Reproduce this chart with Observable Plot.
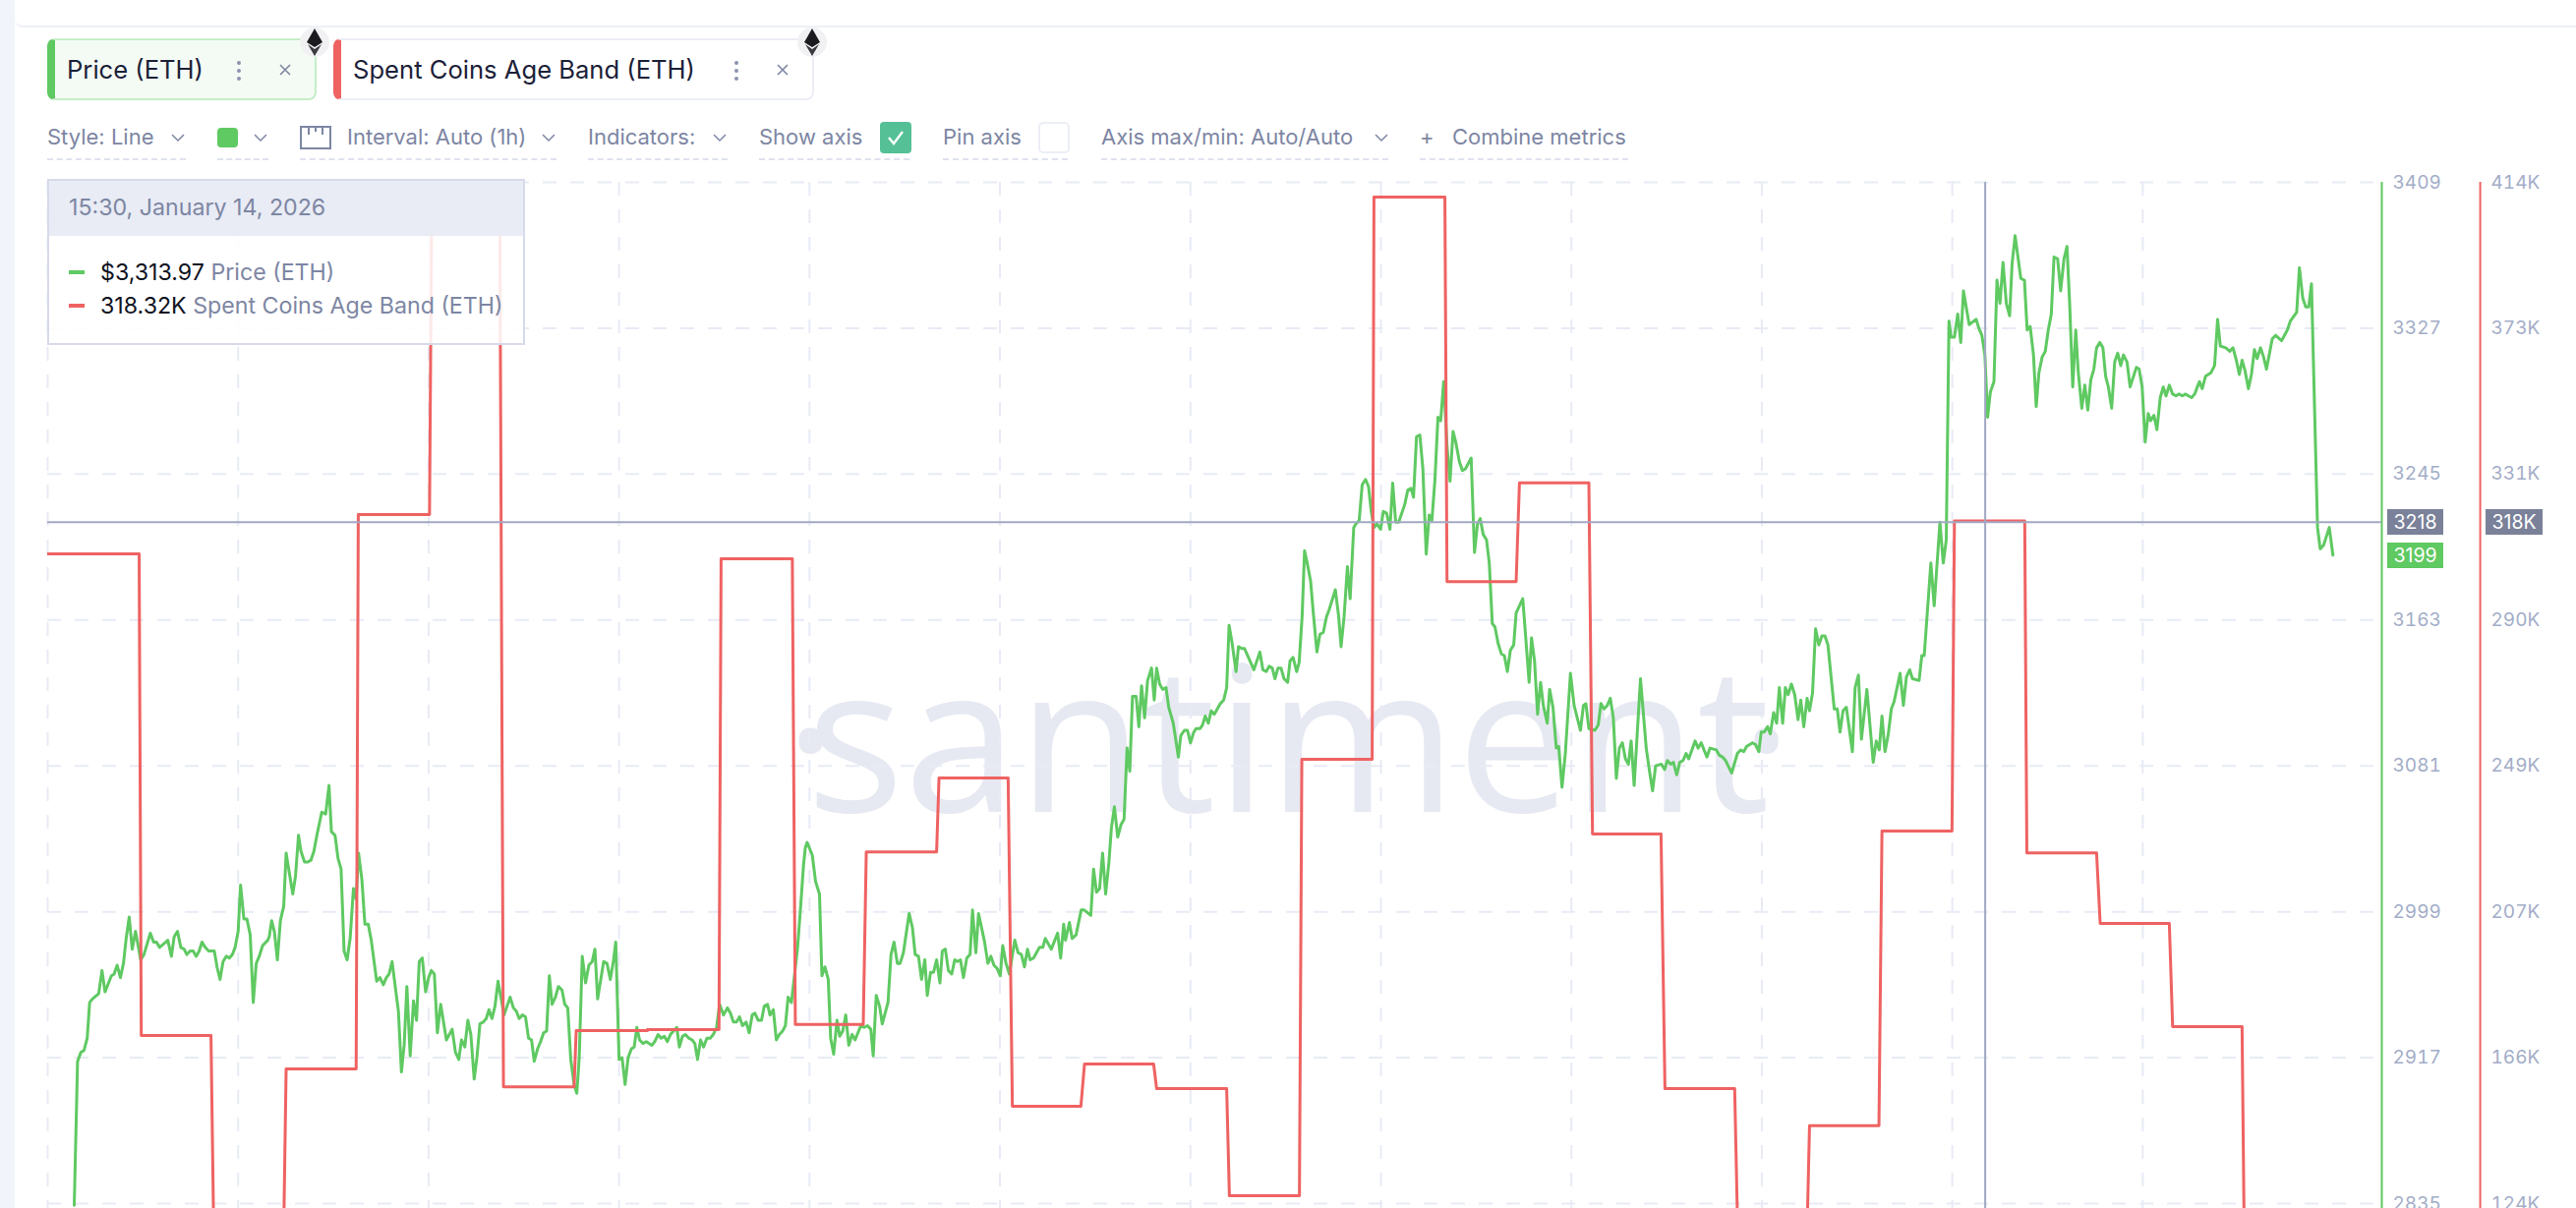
<!DOCTYPE html>
<html><head><meta charset="utf-8">
<script src="https://cdn.jsdelivr.net/npm/d3@7"></script>
<script src="https://cdn.jsdelivr.net/npm/@observablehq/plot@0.6"></script>
<style>
html,body{margin:0;padding:0;background:#fff;width:2620px;height:1229px;overflow:hidden;font-family:Inter,sans-serif;}
#page{position:relative;width:2620px;height:1229px;overflow:hidden;}
#head{position:relative;height:170px;}
.strip{position:absolute;left:0;top:0;width:15px;height:1229px;background:#f2f4fb;z-index:5;}
.topbar{position:absolute;left:15px;top:0;right:0;height:26px;border-bottom:2px solid #eef0f7;border-bottom-left-radius:8px;}
.t{position:absolute;white-space:nowrap;height:28px;line-height:28px;}
.chip{position:absolute;top:39px;height:63px;box-sizing:border-box;border-radius:8px;border-style:solid;border-width:2px 2px 2px 8px;}
.chiptx{font-size:25.6px;color:#1c2138;top:57px;}
.tb{font-size:22px;color:#7d86a3;top:125px;}
.dash{position:absolute;top:161px;height:0;border-top:2px dashed #dfe2ee;}
.chev{position:absolute;top:135px;width:16px;height:10px;}
.eth{position:absolute;top:28px;width:30px;height:30px;border-radius:15px;background:#f1f1f4;}
.dots,.cross{position:absolute;top:61px;}
#tip{position:absolute;left:48px;top:182px;width:486px;height:169px;box-sizing:border-box;border:2px solid #d6daea;background:rgba(255,255,255,.86);z-index:4;}
#tip .hd{position:absolute;left:0;top:0;right:0;height:56px;background:#e9ecf5;}
.chipval{position:absolute;height:26px;line-height:26px;text-align:center;color:#fff;font-size:19.5px;z-index:3;}
#chart{position:absolute;left:0;top:170px;}
#chart svg{display:block;}
</style></head><body>
<div id="page">
<div class="strip"></div><div class="topbar"></div>
<div id="head">
  <div class="chip" style="left:48px;width:274px;background:#f4fbf4;border-color:#c6eec8;border-left-color:#5fc962;"></div>
  <div class="t chiptx" style="left:68px;">Price (ETH)</div>
  <div class="chip" style="left:339px;width:489px;background:#fff;border-color:#eceef6;border-left-color:#ef6262;"></div>
  <div class="t chiptx" style="left:359px;">Spent Coins Age Band (ETH)</div>
  <svg class="dots" style="left:240px;" width="6" height="22"><g fill="#8b93ad"><circle cx="3" cy="3" r="2"/><circle cx="3" cy="11" r="2"/><circle cx="3" cy="19" r="2"/></g></svg>
  <svg class="cross" style="left:283px;top:64px;" width="14" height="14"><path d="M2 2L12 12M12 2L2 12" stroke="#7d86a3" stroke-width="1.6"/></svg>
  <svg class="dots" style="left:746px;" width="6" height="22"><g fill="#8b93ad"><circle cx="3" cy="3" r="2"/><circle cx="3" cy="11" r="2"/><circle cx="3" cy="19" r="2"/></g></svg>
  <svg class="cross" style="left:789px;top:64px;" width="14" height="14"><path d="M2 2L12 12M12 2L2 12" stroke="#7d86a3" stroke-width="1.6"/></svg>
  <div class="eth" style="left:305px;"><svg width="30" height="30"><path d="M15 1L7 15L15 20L23 15Z" fill="#1b1b1f"/><path d="M15 22L8 17L15 29L22 17Z" fill="#3a3a40"/></svg></div>
  <div class="eth" style="left:811px;"><svg width="30" height="30"><path d="M15 1L7 15L15 20L23 15Z" fill="#1b1b1f"/><path d="M15 22L8 17L15 29L22 17Z" fill="#3a3a40"/></svg></div>

  <div class="t tb" style="left:48px;">Style: Line</div>
  <svg class="chev" style="left:173px;"><path d="M2 2L8 8L14 2" fill="none" stroke="#7d86a3" stroke-width="1.5"/></svg>
  <div class="dash" style="left:48px;width:141px;"></div>
  <div style="position:absolute;left:221px;top:130px;width:21px;height:20px;border-radius:4px;background:#5fc962;"></div>
  <svg class="chev" style="left:257px;"><path d="M2 2L8 8L14 2" fill="none" stroke="#7d86a3" stroke-width="1.5"/></svg>
  <div class="dash" style="left:221px;width:52px;"></div>
  <svg style="position:absolute;left:305px;top:128px;" width="32" height="24"><path d="M1 1H31V23H1ZM9 1V9M16 1V6M23 1V9" fill="none" stroke="#7d86a3" stroke-width="2"/></svg>
  <div class="t tb" style="left:353px;">Interval: Auto (1h)</div>
  <svg class="chev" style="left:550px;"><path d="M2 2L8 8L14 2" fill="none" stroke="#7d86a3" stroke-width="1.5"/></svg>
  <div class="dash" style="left:305px;width:261px;"></div>
  <div class="t tb" style="left:598px;">Indicators:</div>
  <svg class="chev" style="left:724px;"><path d="M2 2L8 8L14 2" fill="none" stroke="#7d86a3" stroke-width="1.5"/></svg>
  <div class="dash" style="left:598px;width:142px;"></div>
  <div class="t tb" style="left:772px;">Show axis</div>
  <div style="position:absolute;left:895px;top:124px;width:32px;height:32px;border-radius:4px;background:#55c096;"><svg width="32" height="32"><path d="M9 16L14 22L23 10" fill="none" stroke="#fff" stroke-width="2.4"/></svg></div>
  <div class="dash" style="left:772px;width:153px;"></div>
  <div class="t tb" style="left:959px;">Pin axis</div>
  <div style="position:absolute;left:1056px;top:124px;width:32px;height:32px;box-sizing:border-box;border-radius:5px;border:2px solid #eceef6;"></div>
  <div class="dash" style="left:959px;width:127px;"></div>
  <div class="t tb" style="left:1120px;">Axis max/min: Auto/Auto</div>
  <svg class="chev" style="left:1397px;"><path d="M2 2L8 8L14 2" fill="none" stroke="#7d86a3" stroke-width="1.5"/></svg>
  <div class="dash" style="left:1120px;width:292px;"></div>
  <div class="t tb" style="left:1444px;">+</div>
  <div class="t tb" style="left:1477px;">Combine metrics</div>
  <div class="dash" style="left:1444px;width:212px;"></div>
</div>
<div id="chart"></div>
<div id="tip">
  <div class="hd"></div>
  <div class="t" style="left:20px;top:13px;font-size:23.2px;color:#7d86a3;">15:30, January 14, 2026</div>
  <div style="position:absolute;left:20px;top:91px;width:16px;height:4px;background:#5fc962;"></div>
  <div class="t" style="left:52px;top:79px;font-size:23.2px;color:#10131f;">$3,313.97 <span style="color:#7d86a3">Price (ETH)</span></div>
  <div style="position:absolute;left:20px;top:125px;width:16px;height:4px;background:#ef6262;"></div>
  <div class="t" style="left:52px;top:113px;font-size:23.2px;color:#10131f;">318.32K <span style="color:#7d86a3">Spent Coins Age Band (ETH)</span></div>
</div>
</div>
<script>
// Price (ETH), hourly: hours since the left edge of the chart and USD price
const priceHour=[8.8,9.9,11,12,13.1,13.9,14.8,16.9,18,19,21.1,22,23,24.1,25.1,26,27,28,29.1,30.8,31.9,34,35.1,36,37.1,39.8,41,41.9,43,44.1,45.2,46.1,47.2,48.2,49.2,50.2,51.1,52.2,53.3,55.2,56.1,57.1,58.1,59.2,60.2,61.2,62.1,63.1,63.9,65,66,67.1,68.1,69.1,70.1,71.2,72.9,73.4,74.2,75.1,76.1,77.1,78.2,79,81.2,82.1,83.1,83.9,85.1,86.2,87.2,88.2,89.3,90.8,92.1,93.2,94,95.2,96.2,97.2,98.2,99.2,100.2,101.3,102.2,103,104.1,105.1,106.2,107.2,109,110.1,111.2,112.2,113.1,114.1,116.2,117.2,118.1,119,120.1,121.2,122.2,123.1,124.1,125.2,126.2,127.1,128.1,129.1,130.2,132.1,134,135.1,136.2,137.1,138.2,139.2,140.2,141.3,142.2,143.2,144.3,145.3,146.2,147.2,148.2,149.2,151.2,153.2,154.3,155.3,156.2,157.3,158.3,159.3,160.3,161.2,162.3,163.3,164.3,165.3,166.2,167.1,168.2,169.2,170.4,171.3,172.3,173.3,174.4,175.3,176.1,177.1,178.2,179.3,180.4,181.3,182.2,184.2,185.3,186.4,187.4,188.2,189.3,190.3,191.3,192.3,193.4,194.3,195.2,196.1,197.2,198.3,200.2,201.1,202.2,203.2,204.3,205.3,206.3,208.4,209.3,210.3,211.3,212.4,213.5,214.4,215.3,216.3,217.3,218.4,219.5,220.5,221.6,222.6,223.9,225.2,226.2,227.2,228.2,229.2,230.2,231.4,232.4,233.4,234.3,235.4,236.5,237.4,238.5,239.3,240.4,241.4,242.4,243.5,244.4,245.3,246.4,248.4,249.5,250.4,251,251.6,253.3,254.4,255.7,256.5,257.5,258.6,259.4,260.4,261.5,262.4,263.4,264.4,265.4,266.5,267.5,269.4,270.5,271.6,272.7,273.5,274.5,275.6,276.5,278.4,279.4,280.4,281.5,282.4,283.5,285.4,286.5,287.4,288.5,289.5,290.6,291.4,292.5,293.5,294.5,295.6,296.4,297.4,298.4,299.5,300.5,301.4,302.4,303.4,304.5,305.6,306.4,307.5,308.4,310.4,311.5,312.5,313.5,314.6,315.6,316.4,317.5,318.6,320.4,321.5,322.6,323.6,324.6,325.5,326.6,328.6,329.7,330.5,332.5,334.6,335.6,336.6,337.2,338.5,339.4,340.7,342.4,343.4,345.6,346.5,347.5,348.5,349.5,350.5,351.6,352.4,353.4,354.5,355.6,356.6,357.6,358.5,359.4,360.6,361.5,362.4,363.4,364.4,365.7,366.6,367.4,368.4,369.4,370.5,371.4,372.9,374.6,375.4,376.6,377.6,378.6,379.7,380.5,381.8,382.6,383.5,384.5,385.5,386.5,387.5,388.5,389.6,390.6,391.4,392.4,393.7,394.5,395.6,396.5,399.6,401.6,402.6,403.7,404.7,405.7,406.6,407.6,408.6,409.6,410.8,411.6,412.6,413.8,414.6,415.6,416.4,417.4,418.4,419.3,420.5,421.5,422.6,423.7,424.6,426.6,427.7,428.5,429.5,430.6,431.5,432.7,433.4,434.5,435.5,436.6,437.6,438.5,439.4,440.4,441.6,442.5,443.6,444.7,445.6,446.6,447.6,449.6,450.6,451.7,452.5,453.5,454.6,455.6,456.7,457.7,458.6,459.6,460.6,461.5,462.5,463.6,464.6,465.6,466.5,467.7,468.7,469.7,471.6,472.7,473.7,474.6,475.6,476.7,477.6,478.6,479.5,480.5,481.6,482.6,483.6,484.6,485.7,486.5,487.6,488.7,490.8,491.6,492.6,493.6,494.6,495.5,496.8,497.6,498.7,499.8,500.6,501.7,502.8,504.5,505.7,507.8,508.8,509.6,510.6,512.6,513.7,514.6,515.6,516.7,517.7,518.7,519.7,520.7,521.7,522.7,523.7,524.6,525.6,527.7,529.6,530.6,531.7,532.7,534.6,535.7,536.6,537.7,538.6,539.7,540.7,541.8,542.8,543.7,545.8,546.8,547.8,549.7,550.7,552.8,553.8,554.9,555.9,557.9,559.8,560.9,561.9,562.9,564.8,565.8,566.9,567.7,568.7,569.8,570.7,571.8,572.8,573.7,574.8,575.7,576.6,577.7,578.8,579.9,580.8,581.8,582.9,583.7,584.7,585.7,586.8,587.8,588.8,589.8,591.9,592.9,593.8,594.8,595.9,597.9,598.8,599.9,600.9,602.7,604.8,605.8,606.8,607.7,608.7,609.8,610.8,611.7,613.7,614.8,615.8,616.9,617.8,620,620.9,621.7,622.8,623.9,625,626.9,628,629,629.9,630.6,631.7,632.8,633.8,634.7,636.6,638.9,639.8,640.8,641.8,642.7,643.6,644.8,645.8,646.8,647.8,648.9,650,650.8,651.8,653.7,654.9,655.8,656.8,657.9,658.8,659.7,660.8,661.8,662.8,663.8,664.7,665.9,666.9,668,669,669.9,670.9,671.9,672.7,673.9,674.9,675.9,676.9,677.9,678.8,679.9,680.9,681.8,682.7,683.8,684.8,685.8,686.8,687.7,688.9,689.9,692,692.9,693.9,694.9,695.9,696.7,697.8,698.8,699.9,700.9,701.8,702.9,704,705.1,706.1,707.2,708.3,709.2,710.3,711.3,712.4,712.9,713.8,714.9,716.7,717.9,718.9,719.8,721.6,722.9,724,725.1,726.1,727,728,729.1,730.1,731.1,732,733.1,734.1,735.1,737,738.1,740.1,742,743,745.1,746,747.1,748.1,749.1,750,752,752.9,754,755.9,757.1];
const priceValue=[2834,2915,2920,2921,2928,2948,2950,2953,2966,2954,2963,2964,2969,2962,2970,2984,2996,2978,2988,2972,2975,2987,2982,2982,2979,2983,2974,2985,2988,2979,2978,2975,2977,2977,2974,2977,2982,2979,2977,2977,2968,2961,2971,2974,2973,2975,2979,2988,3014,2995,2995,2986,2948,2970,2974,2980,2983,2985,2994,2988,2972,2994,3002,3032,3009,3019,3042,3033,3027,3027,3028,3033,3043,3055,3054,3070,3044,3042,3029,3023,2977,2972,2984,3012,3006,3032,3017,2992,2992,2983,2960,2962,2958,2962,2964,2971,2943,2909,2924,2957,2918,2949,2938,2971,2973,2954,2962,2966,2964,2931,2947,2927,2933,2920,2916,2927,2923,2938,2930,2905,2917,2936,2937,2939,2944,2939,2946,2960,2941,2951,2945,2943,2939,2941,2940,2928,2927,2915,2922,2926,2931,2932,2963,2947,2951,2957,2955,2947,2945,2916,2902,2897,2917,2974,2959,2969,2971,2978,2950,2971,2970,2961,2971,2982,2916,2917,2902,2917,2922,2923,2934,2927,2925,2926,2924,2926,2930,2928,2929,2926,2930,2934,2923,2929,2930,2928,2927,2925,2916,2927,2923,2928,2928,2930,2934,2947,2941,2945,2942,2937,2937,2940,2935,2937,2931,2941,2942,2938,2938,2946,2947,2941,2944,2927,2930,2932,2935,2951,2948,2978,3003,3025,3035,3038,3031,3016,3009,2963,2968,2961,2928,2919,2938,2929,2932,2941,2924,2930,2927,2935,2934,2935,2933,2918,2952,2946,2936,2948,2975,2982,2970,2970,2976,2998,2990,2975,2974,2961,2972,2952,2965,2965,2972,2959,2977,2978,2966,2964,2972,2971,2972,2962,2973,2975,3000,2976,2998,2982,2970,2974,2969,2967,2963,2980,2970,2964,2983,2976,2975,2968,2978,2972,2973,2979,2979,2984,2978,2987,2973,2992,2983,2993,2984,2986,3000,3000,2997,3023,3010,3012,3032,3009,3027,3046,3058,3041,3048,3051,3091,3078,3120,3120,3103,3126,3108,3129,3136,3118,3136,3127,3124,3125,3114,3105,3086,3098,3101,3101,3094,3100,3102,3102,3104,3109,3105,3112,3110,3113,3116,3118,3125,3160,3150,3134,3148,3147,3147,3135,3145,3135,3134,3137,3136,3130,3136,3136,3130,3128,3140,3142,3134,3139,3165,3202,3194,3185,3167,3145,3155,3156,3165,3169,3180,3165,3148,3165,3193,3175,3215,3217,3219,3239,3242,3238,3224,3215,3217,3214,3224,3223,3214,3240,3218,3218,3228,3236,3237,3232,3266,3267,3248,3200,3222,3219,3242,3277,3275,3297,3261,3241,3269,3263,3252,3247,3248,3254,3201,3217,3220,3211,3208,3195,3161,3159,3150,3144,3143,3134,3146,3149,3167,3171,3175,3128,3153,3140,3110,3128,3115,3105,3124,3114,3091,3092,3069,3088,3133,3115,3101,3115,3116,3102,3101,3104,3116,3113,3115,3119,3108,3074,3091,3094,3085,3082,3095,3070,3130,3091,3079,3067,3081,3082,3079,3084,3082,3083,3076,3083,3084,3088,3085,3095,3091,3094,3086,3091,3090,3087,3086,3084,3077,3088,3090,3089,3092,3094,3093,3089,3100,3100,3103,3099,3111,3105,3125,3105,3125,3121,3127,3121,3107,3118,3103,3119,3112,3122,3158,3149,3154,3154,3149,3113,3113,3100,3112,3114,3089,3125,3132,3096,3124,3083,3095,3090,3109,3089,3099,3113,3117,3133,3115,3131,3135,3130,3129,3143,3143,3169,3195,3171,3218,3195,3208,3331,3322,3322,3335,3319,3348,3329,3332,3327,3323,3312,3277,3291,3297,3354,3341,3364,3341,3334,3363,3379,3355,3354,3326,3328,3312,3283,3302,3311,3314,3326,3335,3367,3366,3348,3366,3373,3340,3294,3326,3303,3282,3295,3281,3298,3304,3316,3319,3316,3300,3294,3282,3308,3313,3306,3312,3308,3294,3305,3304,3294,3263,3279,3275,3278,3270,3288,3294,3289,3295,3290,3289,3290,3289,3290,3289,3288,3290,3295,3297,3293,3300,3302,3306,3332,3317,3316,3314,3316,3309,3301,3309,3303,3293,3301,3315,3310,3316,3311,3304,3321,3323,3320,3326,3331,3336,3361,3344,3339,3339,3352,3215,3203,3205,3215,3199.5];
// Spent Coins Age Band (ETH), one flat level per day: start hour, end hour, value in thousands
const spentStart=[0,31,55,79,102.9,127.2,151,175.1,198.7,223.1,247.7,271.2,295.3,319.6,343.5,367.4,391.5,415.5,439.4,463.6,487.6,511.8,535.8,559.9,583.7,607.7,631.7,655.7,680,704,727.7];
const spentEnd=[30.3,54.1,78.2,102.2,126.5,149.8,174.4,198.7,222.4,246.7,270.2,294.5,318.2,342.3,366.4,390.6,414.7,438.8,462.9,486.5,510.6,534.5,558.9,582.9,606.7,630.9,655,678.8,702.9,727,757];
const spentValue=[309,172.3,117,162.8,320.1,404.9,157.7,173.7,174,307.6,175.4,224.4,245.4,152.2,164.2,157.2,126.8,250.7,410.2,301.1,329.1,229.5,157.2,117,146.7,230.3,318.32,224.1,204.1,174.8,117];
const priceTicks=[3409,3327,3245,3163,3081,2999,2917,2835];
const spentTicks=["414K","373K","331K","290K","249K","207K","166K","124K"];
const gridHours=[0,63.1,126.2,189.3,252.4,315.5,378.6,441.7,504.8,567.9,631,694.1];
const crossHour=641.9, crossPrice=3218, lastPrice=3199;
const priceAxisHour=773.3, spentAxisHour=805.9, bottomPrice=2832;
const GREEN="#5fc962", RED="#ef6262", GRID="#e8ebf5", CROSS="#a2a8c3", LABEL="#a3adc8";

const spentToPrice=d3.scaleLinear([414.4,124.6],[3409,2835]);
const priceData=priceHour.map((h,i)=>({h,p:priceValue[i]}));
const spentData=spentStart.flatMap((s,i)=>[{h:s,v:spentValue[i]},{h:spentEnd[i],v:spentValue[i]}]);
const labelOf=new Map(priceTicks.map((p,i)=>[p,spentTicks[i]]));

const chart=Plot.plot({
  width:2620,height:1059,
  marginTop:15,marginBottom:0,marginLeft:48,marginRight:198,
  insetBottom:5,
  style:{background:"transparent",fontFamily:"Inter, sans-serif",overflow:"hidden"},
  x:{type:"linear",domain:[0,priceAxisHour],axis:null},
  y:{type:"linear",domain:[2835,3409],axis:null},
  marks:[
    Plot.text([{h:252.8,p:3055,t:"·"},{h:411,p:3055,t:"santiment"},{h:569.4,p:3055,t:"·"}],{
      x:"h",y:"p",text:"t",fontSize:208,fontWeight:400,fontFamily:"Open Sans",fill:"#e7e9f2",lineAnchor:"bottom"
    }),
    Plot.ruleX(gridHours,{y1:3409,y2:bottomPrice,stroke:GRID,strokeWidth:2,strokeDasharray:"14,14"}),
    Plot.ruleY(priceTicks,{stroke:GRID,strokeWidth:2,strokeDasharray:"14,14"}),
    Plot.line(priceData,{x:"h",y:"p",stroke:GREEN,strokeWidth:3,curve:"linear",clip:true}),
    Plot.line(spentData,{x:"h",y:d=>spentToPrice(d.v),stroke:RED,strokeWidth:3,curve:"linear",clip:true}),
    Plot.ruleX([priceAxisHour],{y1:3409,y2:bottomPrice,stroke:GREEN,strokeWidth:2}),
    Plot.ruleX([spentAxisHour],{y1:3409,y2:bottomPrice,stroke:RED,strokeWidth:2}),
    Plot.ruleX([crossHour],{y1:3409,y2:bottomPrice,stroke:CROSS,strokeWidth:2}),
    Plot.ruleY([crossPrice],{stroke:CROSS,strokeWidth:2}),
    Plot.axisY(priceTicks,{anchor:"right",ticks:priceTicks,tickSize:0,tickPadding:11,fontSize:19,color:LABEL,label:null,tickFormat:d=>String(d)}),
    Plot.axisY(priceTicks,{anchor:"right",ticks:priceTicks,tickSize:0,tickPadding:111,fontSize:19,color:LABEL,label:null,tickFormat:d=>labelOf.get(d)})
  ]
});
document.getElementById("chart").appendChild(chart);

// value chips on the axes, placed through the chart's own y scale
const yPx=v=>170+chart.scale("y").apply(v);
[[2428,57,crossPrice,"3218","#7a8199"],[2428,57,lastPrice,"3199",GREEN],[2528,58,crossPrice,"318K","#7a8199"]].forEach(([l,w,v,t,c])=>{
  const d=document.createElement("div");d.className="chipval";
  d.style.cssText+=`left:${l}px;width:${w}px;top:${yPx(v)-13}px;background:${c};`;
  d.textContent=t;document.getElementById("page").appendChild(d);
});
</script>
</body></html>
